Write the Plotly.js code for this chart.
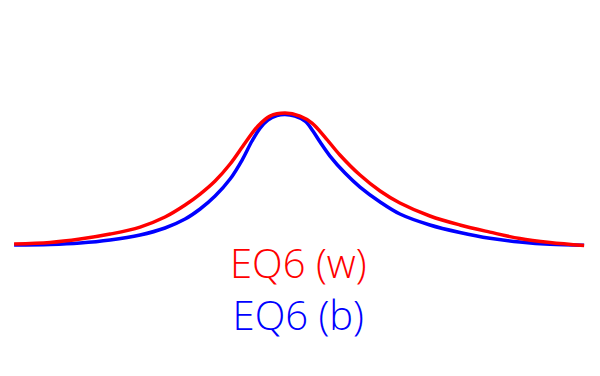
<!DOCTYPE html>
<html>
<head>
<meta charset="utf-8">
<script src="https://cdn.plot.ly/plotly-3.0.1.min.js"></script>
<style>html,body{margin:0;padding:0;background:#fff}#chart{width:600px;height:376px}</style>
</head>
<body>
<div id="chart"></div>
<script>
const seriesNames = ["EQ6 (w)", "EQ6 (b)"];
const seriesColors = ["#ff0000", "#0000ff"];

const xW = [-9.03,-7.83,-6.83,-5.83,-4.83,-4.0,-3.33,-2.83,-2.33,-1.83,-1.33,-0.9,-0.5,0,0.5,0.9,1.33,1.83,2.5,3.17,3.83,4.83,5.83,6.83,7.83,8.83,9.97];
const yW = [0.008,0.019,0.045,0.083,0.136,0.212,0.303,0.386,0.485,0.614,0.773,0.902,0.977,1.0,0.977,0.924,0.818,0.682,0.53,0.409,0.318,0.22,0.152,0.098,0.049,0.019,-0.004];

const xB = [-9.03,-7.83,-6.83,-5.83,-4.83,-4.0,-3.33,-2.83,-2.33,-1.83,-1.43,-1.1,-0.83,-0.57,-0.27,0,0.33,0.67,0.93,1.17,1.5,2.0,2.5,3.17,3.83,4.83,5.83,6.83,7.83,8.83,9.97];
const yB = [0.0,0.004,0.015,0.038,0.076,0.129,0.197,0.273,0.371,0.5,0.644,0.788,0.886,0.947,0.981,0.989,0.977,0.939,0.864,0.78,0.674,0.545,0.439,0.326,0.235,0.152,0.095,0.051,0.023,0.005,-0.002];

const traces = [
  {x: xW, y: yW, mode: "lines", line: {color: seriesColors[0], width: 3.5, shape: "spline", smoothing: 1}, hoverinfo: "skip"},
  {x: xB, y: yB, mode: "lines", line: {color: seriesColors[1], width: 3.5, shape: "spline", smoothing: 1}, hoverinfo: "skip"}
];
const data = [traces[1], traces[0]];

const labelText = seriesNames.map((n, i) => "<span style='color:" + seriesColors[i] + "'>" + n + "</span>").join("<br>");

const layout = {
  width: 600, height: 376,
  margin: {l: 0, r: 0, t: 0, b: 0},
  paper_bgcolor: "#ffffff", plot_bgcolor: "#ffffff",
  showlegend: false,
  xaxis: {range: [-9.5, 10.5], visible: false, fixedrange: true},
  yaxis: {range: [-0.992, 1.856], visible: false, fixedrange: true},
  annotations: [
    {text: labelText, xref: "paper", yref: "paper", x: 0.498, y: 0.232, xanchor: "center", yanchor: "middle", showarrow: false, align: "center",
     font: {family: "Open Sans, Noto Sans, sans-serif", size: 40, color: seriesColors[0], weight: 300}}
  ]
};
Plotly.newPlot("chart", data, layout, {staticPlot: true, displayModeBar: false});
</script>
</body>
</html>
